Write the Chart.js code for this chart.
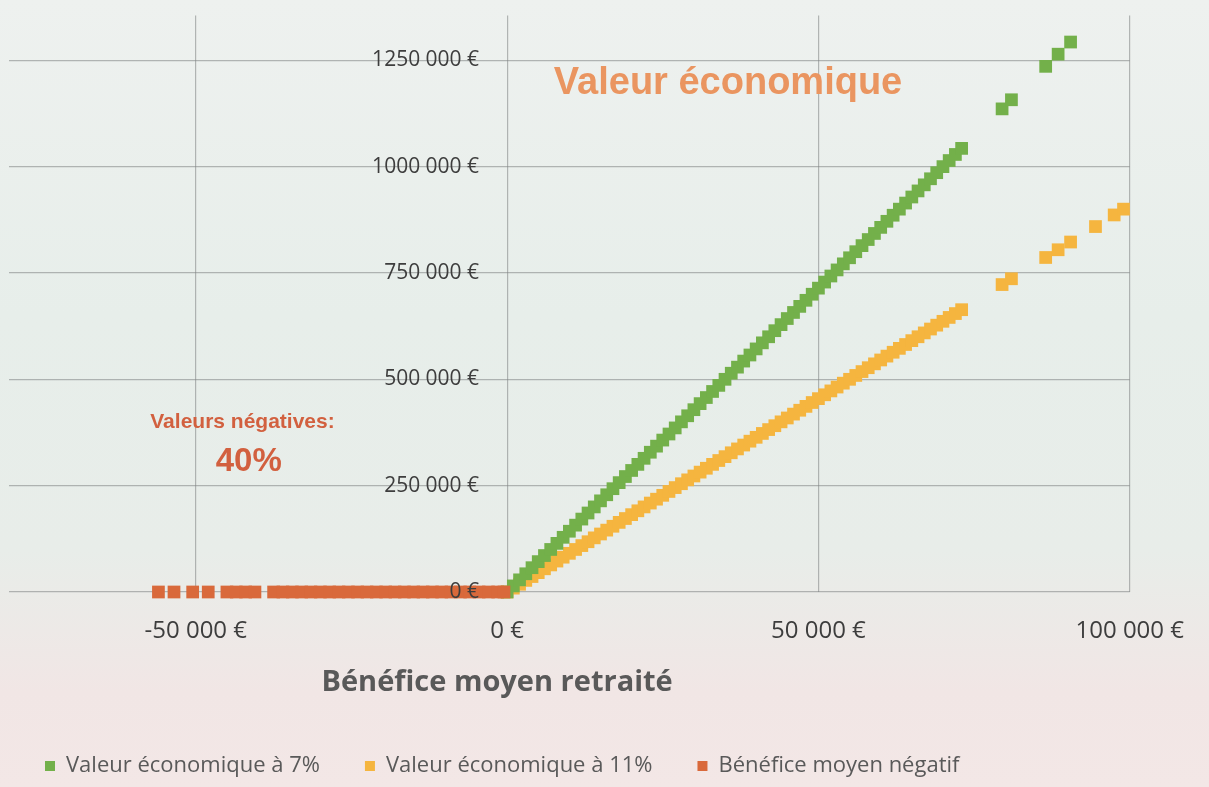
<!DOCTYPE html>
<html lang="fr">
<head>
<meta charset="utf-8">
<title>Valeur économique</title>
<script src="https://cdn.jsdelivr.net/npm/chart.js@4.4.1/dist/chart.umd.min.js"></script>
<style>
  html, body { margin: 0; padding: 0; }
  body {
    width: 1209px; height: 787px; overflow: hidden;
    background: linear-gradient(180deg, #eef1ef 0%, #e7eeea 40%, #e8ede9 70%, #f1e6e5 88%, #f3e7e6 100%);
  }
  #wrap { position: relative; width: 1209px; height: 787px; }
</style>
</head>
<body>
<div id="wrap"><canvas id="valeurChart"></canvas></div>
<script>
// Bénéfice moyen retraité (positif) - commun aux deux séries
const benefice = [0, 1000, 2000, 3000, 4000, 5000, 6000, 7000, 8000, 9000,
  10000, 11000, 12000, 13000, 14000, 15000, 16000, 17000, 18000, 19000,
  20000, 21000, 22000, 23000, 24000, 25000, 26000, 27000, 28000, 29000,
  30000, 31000, 32000, 33000, 34000, 35000, 36000, 37000, 38000, 39000,
  40000, 41000, 42000, 43000, 44000, 45000, 46000, 47000, 48000, 49000,
  50000, 51000, 52000, 53000, 54000, 55000, 56000, 57000, 58000, 59000,
  60000, 61000, 62000, 63000, 64000, 65000, 66000, 67000, 68000, 69000,
  70000, 71000, 72000, 73000,
  79500, 81000, 86500, 88500, 90500, 94500, 97500, 99000];

// Valeur économique à 7%
const valeur7 = [0, 14286, 28571, 42857, 57143, 71429, 85714, 100000, 114286, 128571,
  142857, 157143, 171429, 185714, 200000, 214286, 228571, 242857, 257143, 271429,
  285714, 300000, 314286, 328571, 342857, 357143, 371429, 385714, 400000, 414286,
  428571, 442857, 457143, 471429, 485714, 500000, 514286, 528571, 542857, 557143,
  571429, 585714, 600000, 614286, 628571, 642857, 657143, 671429, 685714, 700000,
  714286, 728571, 742857, 757143, 771429, 785714, 800000, 814286, 828571, 842857,
  857143, 871429, 885714, 900000, 914286, 928571, 942857, 957143, 971429, 985714,
  1000000, 1014286, 1028571, 1042857,
  1135714, 1157143, 1235714, 1264286, 1292857];

// Valeur économique à 11%
const valeur11 = [0, 9091, 18182, 27273, 36364, 45455, 54545, 63636, 72727, 81818,
  90909, 100000, 109091, 118182, 127273, 136364, 145455, 154545, 163636, 172727,
  181818, 190909, 200000, 209091, 218182, 227273, 236364, 245455, 254545, 263636,
  272727, 281818, 290909, 300000, 309091, 318182, 327273, 336364, 345455, 354545,
  363636, 372727, 381818, 390909, 400000, 409091, 418182, 427273, 436364, 445455,
  454545, 463636, 472727, 481818, 490909, 500000, 509091, 518182, 527273, 536364,
  545455, 554545, 563636, 572727, 581818, 590909, 600000, 609091, 618182, 627273,
  636364, 645455, 654545, 663636,
  722727, 736364, 786364, 804545, 822727, 859091, 886364, 900000];

// Bénéfice moyen négatif
const beneficeNegatif = [-56000, -53500, -50500, -48000, -45000, -43500, -42000, -40500,
  -37500, -36000, -34500, -33000, -31500, -30000, -28500, -27000, -25500, -24000,
  -22500, -21000, -19500, -18000, -16500, -15000, -13500, -12000, -10500, -9000,
  -7500, -6000, -4500, -3000, -1500, -500];
const valeurNegatif = [0, 0, 0, 0, 0, 0, 0, 0, 0, 0, 0, 0, 0, 0, 0, 0, 0,
  0, 0, 0, 0, 0, 0, 0, 0, 0, 0, 0, 0, 0, 0, 0, 0, 0];

const xTicks = [-50000, 0, 50000, 100000];
const xTickLabels = ['-50 000 €', '0 €', '50 000 €', '100 000 €'];
const yTicks = [0, 250000, 500000, 750000, 1000000, 1250000];
const yTickLabels = ['0 €', '250 000 €', '500 000 €', '750 000 €', '1000 000 €', '1250 000 €'];

const VERT = '#73b04a';
const JAUNE = '#f5b53f';
const ORANGE = '#d9693b';
const GRILLE = 'rgba(125, 130, 130, 0.55)';

function points(xs, ys) {
  return ys.map((v, i) => ({ x: xs[i], y: v }));
}

// textes posés sur le graphique (titre, annotation, titre de l'axe X)
const textes = {
  id: 'textes',
  afterDraw(chart) {
    const { ctx, chartArea } = chart;
    const x = chart.scales.x, y = chart.scales.y;
    ctx.save();
    ctx.textBaseline = 'middle';

    ctx.textAlign = 'left';
    ctx.fillStyle = '#ea9560';
    ctx.font = 'bold 38px "Liberation Sans", Arial, sans-serif';
    ctx.fillText('Valeur économique', x.getPixelForValue(7500), y.getPixelForValue(1195000));

    ctx.textAlign = 'center';
    ctx.fillStyle = '#d2603f';
    ctx.font = 'bold 21px "Liberation Sans", Arial, sans-serif';
    ctx.fillText('Valeurs négatives:', x.getPixelForValue(-42500), y.getPixelForValue(398000));
    ctx.font = 'bold 33px "Liberation Sans", Arial, sans-serif';
    ctx.fillText('40%', x.getPixelForValue(-41500), y.getPixelForValue(305000));

    ctx.fillStyle = '#595959';
    ctx.font = 'bold 29px "Open Sans", sans-serif';
    ctx.fillText('Bénéfice moyen retraité', x.getPixelForValue(0) - 10, chartArea.bottom + 91);
    ctx.restore();
  }
};

new Chart(document.getElementById('valeurChart'), {
  type: 'scatter',
  data: {
    datasets: [
      { label: 'Valeur économique à 7%', data: points(benefice, valeur7),
        backgroundColor: VERT, order: 1 },
      { label: 'Valeur économique à 11%', data: points(benefice, valeur11),
        backgroundColor: JAUNE, order: 2 },
      { label: 'Bénéfice moyen négatif', data: points(beneficeNegatif, valeurNegatif),
        backgroundColor: ORANGE, order: 0 }
    ]
  },
  options: {
    responsive: true,
    maintainAspectRatio: false,
    animation: false,
    events: [],
    layout: { padding: { top: 2, left: 0, right: 72, bottom: 0 } },
    elements: {
      point: { pointStyle: 'rect', radius: 9, borderWidth: 0 }
    },
    datasets: { scatter: { clip: false } },
    scales: {
      x: {
        type: 'linear',
        min: -80000,
        max: 100000,
        afterBuildTicks: s => { s.ticks = xTicks.map(v => ({ value: v })); },
        afterFit: s => { s.height = 118; },
        border: { display: false },
        grid: { color: GRILLE, lineWidth: 1.2, drawTicks: false },
        ticks: {
          padding: 25,
          color: '#3d3d3d',
          font: { family: '"Open Sans", sans-serif', size: 24 },
          maxRotation: 0,
          callback: (v, i) => xTickLabels[i]
        }
      },
      y: {
        type: 'linear',
        position: { x: -4500 },
        min: 0,
        max: 1355000,
        afterBuildTicks: s => { s.ticks = yTicks.map(v => ({ value: v })); },
        border: { display: false },
        grid: { color: GRILLE, lineWidth: 1.2, drawTicks: false },
        ticks: {
          z: 1,
          color: '#3d3d3d',
          font: { family: '"Open Sans", sans-serif', size: 21 },
          callback: (v, i) => yTickLabels[i]
        }
      }
    },
    plugins: {
      legend: {
        position: 'bottom',
        align: 'start',
        labels: {
          boxWidth: 10,
          boxHeight: 10,
          padding: 45,
          color: '#595959',
          font: { family: '"Open Sans", sans-serif', size: 22 },
          sort: (a, b) => a.datasetIndex - b.datasetIndex
        }
      },
      tooltip: { enabled: false }
    }
  },
  plugins: [textes]
});
</script>
</body>
</html>
